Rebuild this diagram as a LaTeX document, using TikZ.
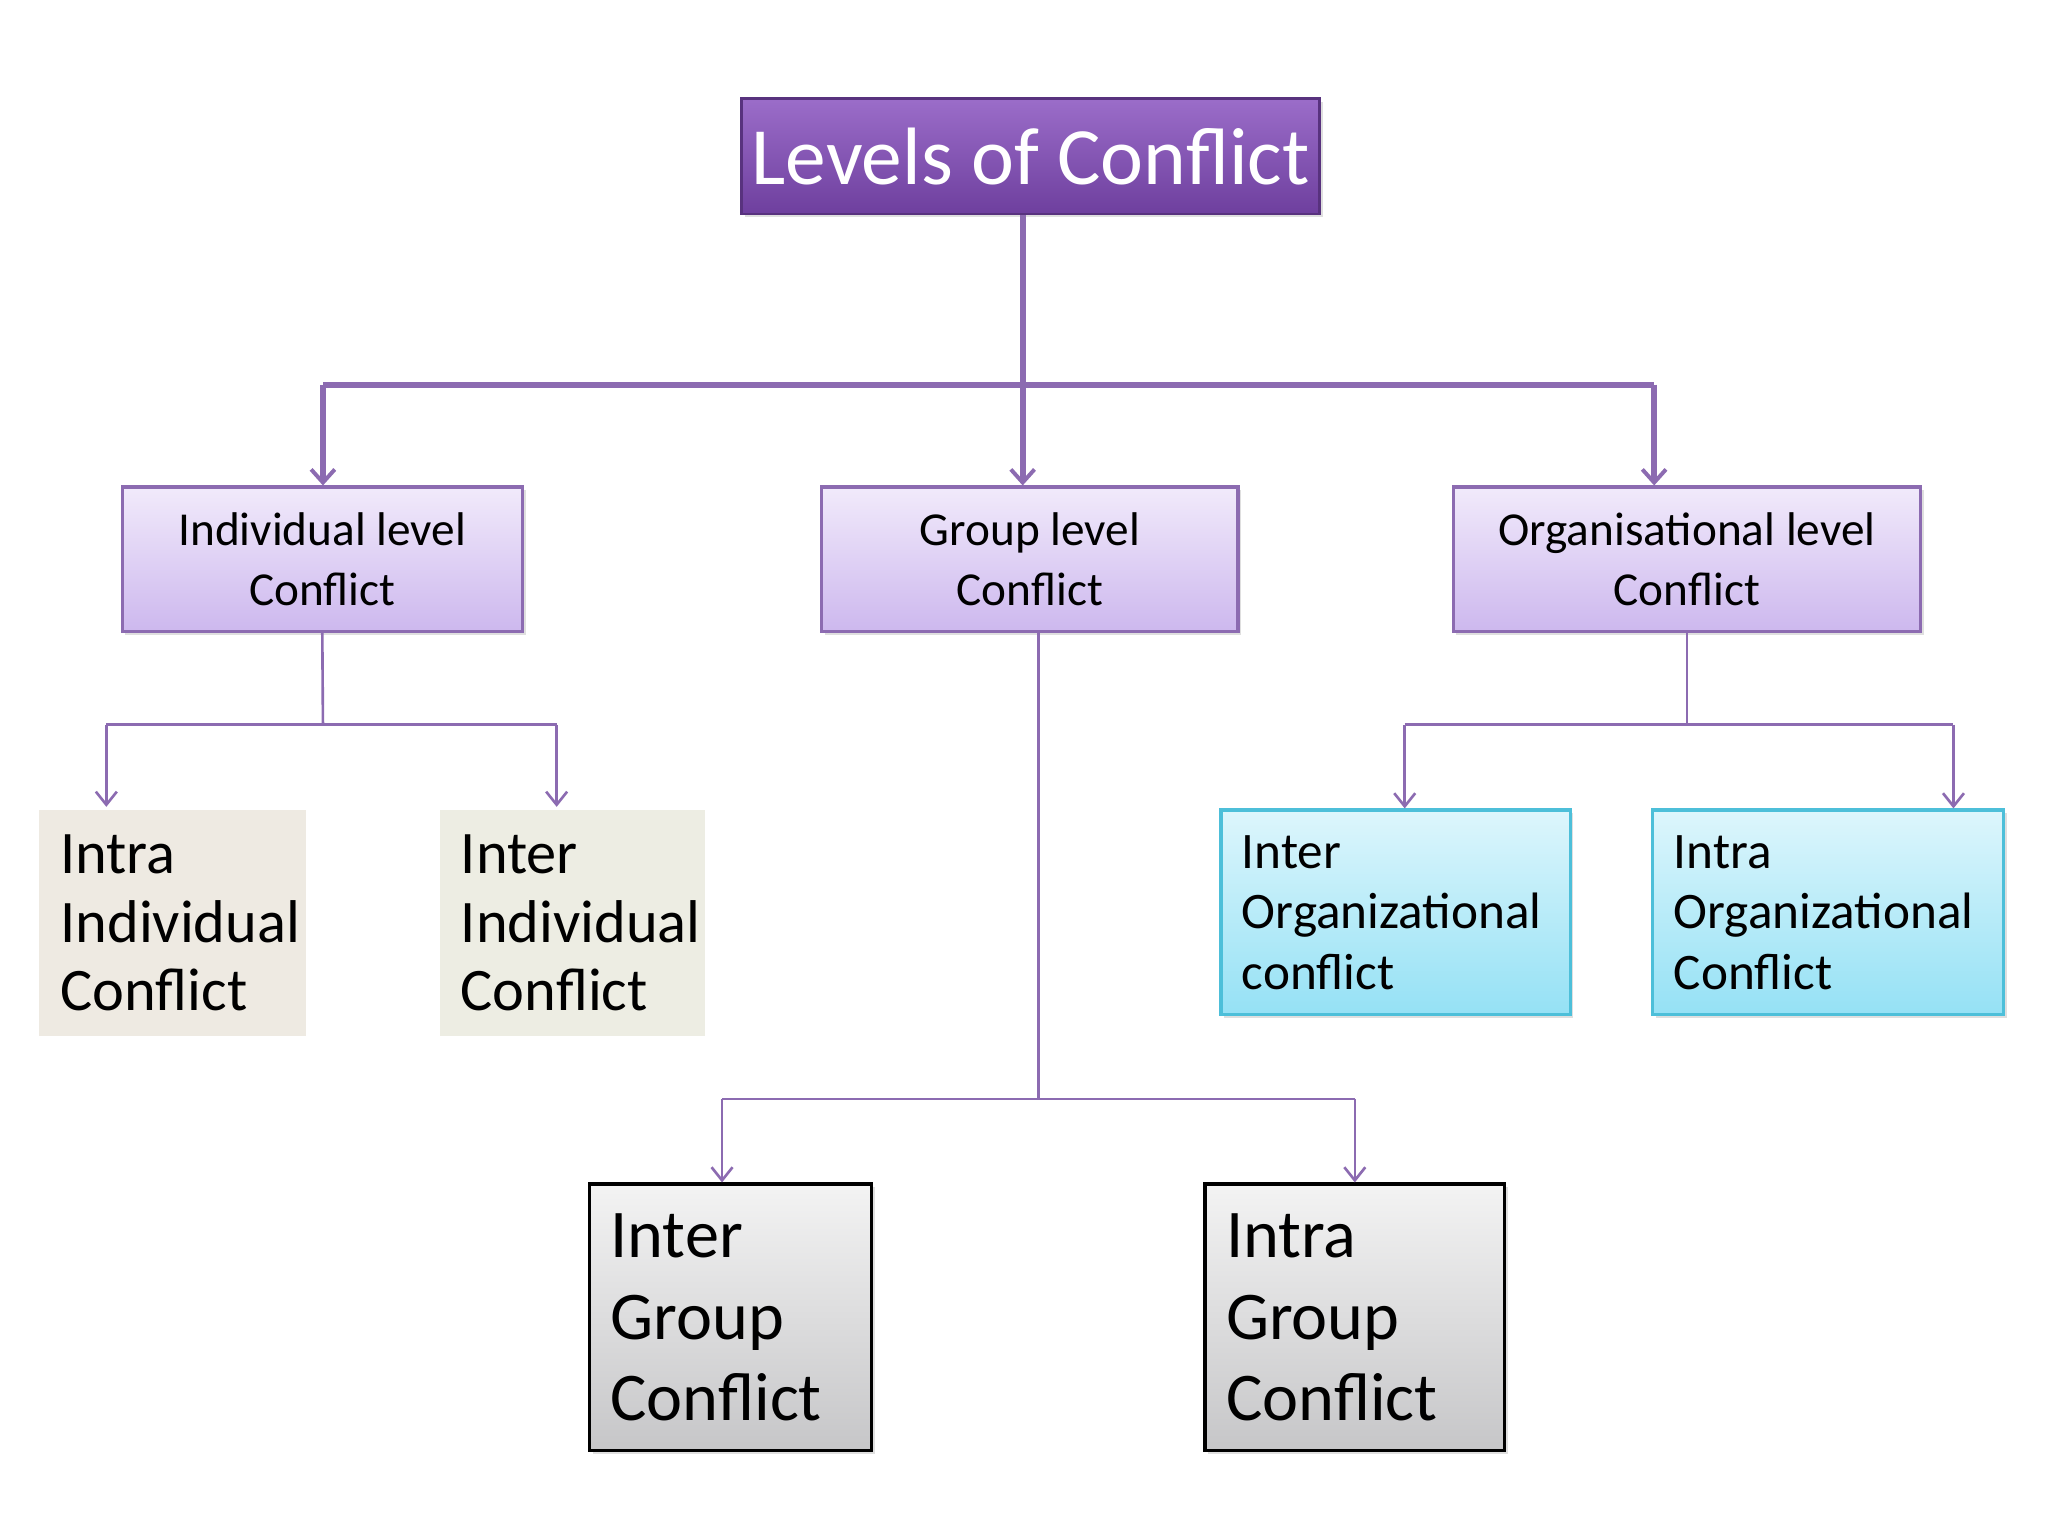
\documentclass[tikz,border=0pt]{standalone}
\usepackage{fontspec}
\setmainfont{Carlito}
\usetikzlibrary{arrows.meta,shadows}
\definecolor{pline}{HTML}{8C6BB1}
\definecolor{pdark}{HTML}{6E3F9E}
\definecolor{plight}{HTML}{9B6DC9}
\definecolor{lav1}{HTML}{F1EAFB}
\definecolor{lav2}{HTML}{CDB8EE}
\definecolor{cy1}{HTML}{DDF6FC}
\definecolor{cy2}{HTML}{95E1F5}
\definecolor{cyb}{HTML}{4DBFD9}
\definecolor{g1}{HTML}{F3F3F3}
\definecolor{g2}{HTML}{C6C6C8}
\tikzset{
  shad/.style={drop shadow={opacity=0.25,shadow xshift=1.2pt,shadow yshift=-1.2pt}},
  title/.style={shad,top color=plight,bottom color=pdark,draw=pdark!80!black,line width=1pt,text=white,font=\fontsize{31}{34}\selectfont,inner sep=0pt},
  lvl/.style={shad,top color=lav1,bottom color=lav2,draw=pline,line width=1.2pt,align=center,font=\fontsize{18}{23}\selectfont,inner sep=0pt},
  beige/.style={align=left,font=\fontsize{23}{26}\selectfont,inner xsep=8pt,inner ysep=0pt},
  cyan/.style={shad,top color=cy1,bottom color=cy2,draw=cyb,line width=1.2pt,align=left,font=\fontsize{19.5}{23}\selectfont,inner xsep=8pt,inner ysep=0pt},
  gray/.style={shad,top color=g1,bottom color=g2,draw=black,line width=1.3pt,align=left,font=\fontsize{26}{31}\selectfont,inner xsep=8pt,inner ysep=0pt},
  thick conn/.style={draw=pline,line width=2.2pt,-{Straight Barb[length=5pt,width=9pt,line width=1.5pt]}},
  thin conn/.style={draw=pline,line width=1pt,-{Straight Barb[length=5pt,width=8pt]}},
  thinline/.style={draw=pline,line width=1pt},
  thickline/.style={draw=pline,line width=2.2pt}
}
\begin{document}
\begin{tikzpicture}[x=0.5pt,y=-0.5pt]
\useasboundingbox[fill=white] (0,0) rectangle (1560,1170);
\node[title,minimum width=220pt,minimum height=44pt] (t) at (785,119) {Levels of Conflict};
\node[lvl,minimum width=152.5pt,minimum height=55pt] (ind) at (245.5,426) {Individual level\\Conflict};
\node[lvl,minimum width=158.5pt,minimum height=55pt] (grp) at (784.5,426) {Group level\\Conflict};
\node[lvl,minimum width=178pt,minimum height=55pt] (org) at (1285,426) {Organisational level\\Conflict};
\node[beige,fill={rgb,255:red,238;green,234;blue,226},text width=85.5pt,minimum height=86pt] (iai) at (131.5,703) {Intra\\Individual\\Conflict};
\node[beige,fill={rgb,255:red,237;green,237;blue,227},text width=85pt,minimum height=86pt] (iei) at (436,703) {Inter\\Individual\\Conflict};
\node[cyan,text width=117pt,minimum height=78pt] (ieo) at (1063,695) {Inter\\Organizational\\conflict};
\node[cyan,text width=117.5pt,minimum height=78pt] (iao) at (1392.5,695) {Intra\\Organizational\\Conflict};
\node[gray,text width=91.5pt,minimum height=101.5pt] (ieg) at (556.5,1003.5) {Inter\\Group\\Conflict};
\node[gray,text width=98pt,minimum height=101.5pt] (iag) at (1032,1003.5) {Intra\\Group\\Conflict};
% top level
\coordinate (j) at (779,293);
\coordinate (jl) at (246,293);
\coordinate (jr) at (1260,293);
\draw[thickline] (j |- t.south) -- (j);
\draw[thickline] (jl) -- (jr);
\draw[thick conn] (j) -- (j |- grp.north);
\draw[thick conn] (jl) -- (jl |- ind.north);
\draw[thick conn] (jr) -- (jr |- org.north);
% individual
\coordinate (a) at (246,552);
\coordinate (al) at (81,552);
\coordinate (ar) at (424,552);
\draw[thinline] (ind.south) -- (a);
\draw[thinline] (al) -- (ar);
\draw[thin conn] (al) -- ([yshift=1pt]al |- iai.north);
\draw[thin conn] (ar) -- ([yshift=1pt]ar |- iei.north);
% group
\coordinate (b) at (791,837);
\coordinate (bl) at (550,837);
\coordinate (br) at (1032,837);
\draw[thinline] (b |- grp.south) -- (b);
\draw[thinline] (bl) -- (br);
\draw[thin conn] (bl) -- (bl |- ieg.north);
\draw[thin conn] (br) -- (br |- iag.north);
% org
\coordinate (c) at (1285,552);
\coordinate (cl) at (1070,552);
\coordinate (cr) at (1488,552);
\draw[thinline] (org.south) -- (c);
\draw[thinline] (cl) -- (cr);
\draw[thin conn] (cl) -- (cl |- ieo.north);
\draw[thin conn] (cr) -- (cr |- iao.north);
\end{tikzpicture}
\end{document}
